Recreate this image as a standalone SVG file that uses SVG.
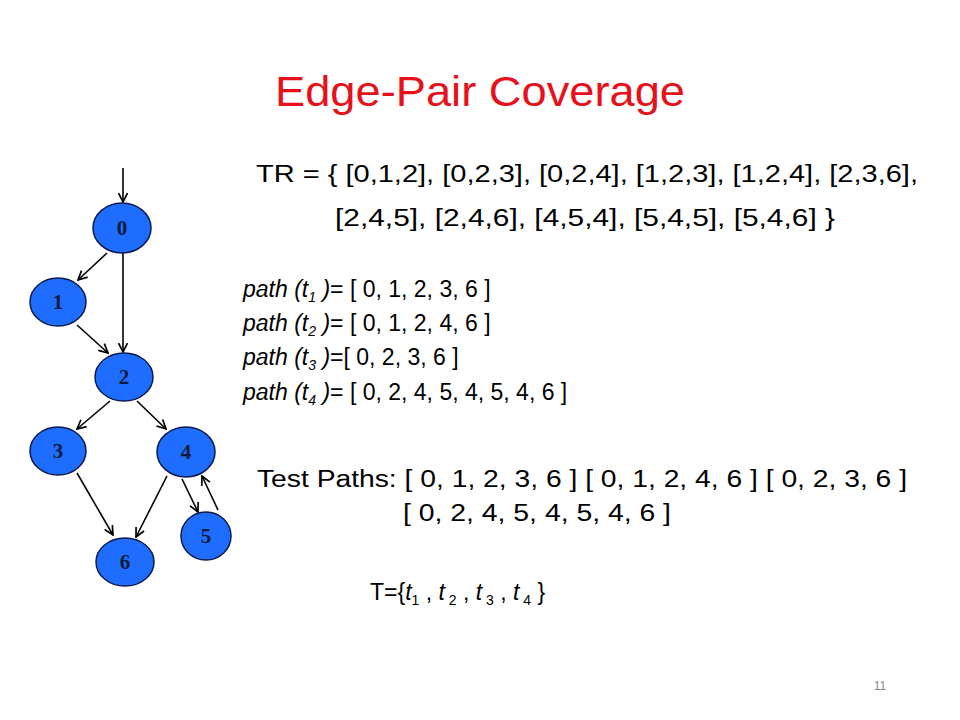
<svg xmlns="http://www.w3.org/2000/svg" width="960" height="720" viewBox="0 0 960 720">
<style>
.n{fill:#1f6dff;stroke:#0a1a4a;stroke-width:1.5}
.nl{font-family:"Liberation Serif",serif;font-weight:bold;font-size:21px;fill:#0a1a3a;text-anchor:middle}
.e{stroke:#000;stroke-width:1.6;fill:none;marker-end:url(#a)}
.t{font-family:"Liberation Sans",Arial,sans-serif;font-size:23px;fill:#000}
.i{font-style:italic}
</style>
<defs><marker id="a" viewBox="0 0 10 10" refX="9" refY="5" markerWidth="7" markerHeight="7" orient="auto"><path d="M1,1 L9,5 L1,9" fill="none" stroke="#000" stroke-width="1.5"/></marker></defs>
<rect width="960" height="720" fill="#fff"/>
<text x="480" y="106" text-anchor="middle" font-family="Liberation Sans,Arial,sans-serif" font-size="42" fill="#e8101a" textLength="410" lengthAdjust="spacingAndGlyphs">Edge-Pair Coverage</text>
<g id="edges">
<line class="e" x1="123" y1="168" x2="123" y2="202"/>
<line class="e" x1="107" y1="253" x2="78" y2="280"/>
<line class="e" x1="123" y1="253" x2="123" y2="352"/>
<line class="e" x1="77" y1="325" x2="108" y2="353"/>
<line class="e" x1="110" y1="401" x2="77" y2="429"/>
<line class="e" x1="137" y1="401" x2="166" y2="429"/>
<line class="e" x1="77" y1="473" x2="113" y2="535"/>
<line class="e" x1="167" y1="476" x2="136" y2="537"/>
<line class="e" x1="182" y1="479" x2="198" y2="512"/>
<line class="e" x1="218" y1="510" x2="202" y2="476"/>
</g>
<g id="n0"><ellipse class="n" cx="122" cy="228" rx="29" ry="25"/><text class="nl" x="122" y="235">0</text></g>
<g id="n1"><ellipse class="n" cx="58" cy="302" rx="28" ry="24"/><text class="nl" x="58" y="309">1</text></g>
<g id="n2"><ellipse class="n" cx="124" cy="377" rx="29" ry="24"/><text class="nl" x="124" y="384">2</text></g>
<g id="n3"><ellipse class="n" cx="58" cy="451" rx="28" ry="24"/><text class="nl" x="58" y="458">3</text></g>
<g id="n4"><ellipse class="n" cx="186" cy="452" rx="29" ry="25"/><text class="nl" x="186" y="459">4</text></g>
<g id="n5"><ellipse class="n" cx="206" cy="536" rx="25" ry="24"/><text class="nl" x="206" y="543">5</text></g>
<g id="n6"><ellipse class="n" cx="125" cy="562" rx="29" ry="24" stroke-width="3.5" stroke="#000"/><text class="nl" x="125" y="569">6</text></g>
<g id="text">
<text class="t" x="256" y="182" textLength="662" lengthAdjust="spacingAndGlyphs">TR = { [0,1,2], [0,2,3], [0,2,4], [1,2,3], [1,2,4], [2,3,6],</text>
<text class="t" x="335" y="226" textLength="500" lengthAdjust="spacingAndGlyphs">[2,4,5], [2,4,6], [4,5,4], [5,4,5], [5,4,6] }</text>
<text class="t" x="243" y="297"><tspan class="i">path (t</tspan><tspan class="i" font-size="14" dy="5">1</tspan><tspan class="i" dy="-5"> )</tspan>= [ 0, 1, 2, 3, 6 ]</text>
<text class="t" x="243" y="331"><tspan class="i">path (t</tspan><tspan class="i" font-size="14" dy="5">2</tspan><tspan class="i" dy="-5"> )</tspan>= [ 0, 1, 2, 4, 6 ]</text>
<text class="t" x="243" y="365"><tspan class="i">path (t</tspan><tspan class="i" font-size="14" dy="5">3</tspan><tspan class="i" dy="-5"> )</tspan>=[ 0, 2, 3, 6 ]</text>
<text class="t" x="243" y="400"><tspan class="i">path (t</tspan><tspan class="i" font-size="14" dy="5">4</tspan><tspan class="i" dy="-5"> )</tspan>= [ 0, 2, 4, 5, 4, 5, 4, 6 ]</text>
<text class="t" x="257" y="487" textLength="650" lengthAdjust="spacingAndGlyphs">Test Paths: [ 0, 1, 2, 3, 6 ] [ 0, 1, 2, 4, 6 ] [ 0, 2, 3, 6 ]</text>
<text class="t" x="403" y="521" textLength="268" lengthAdjust="spacingAndGlyphs">[ 0, 2, 4, 5, 4, 5, 4, 6 ]</text>
<text class="t" x="370" y="600">T={<tspan class="i">t</tspan><tspan font-size="14" dy="5">1</tspan><tspan dy="-5"> , </tspan><tspan class="i">t</tspan><tspan font-size="14" dy="5"> 2</tspan><tspan dy="-5"> , </tspan><tspan class="i">t</tspan><tspan font-size="14" dy="5"> 3</tspan><tspan dy="-5"> , </tspan><tspan class="i">t</tspan><tspan font-size="14" dy="5"> 4</tspan><tspan dy="-5"> }</tspan></text>
<text x="880" y="690" text-anchor="middle" font-family="Liberation Sans,Arial,sans-serif" font-size="12" fill="#888">11</text>
</g>
</svg>
